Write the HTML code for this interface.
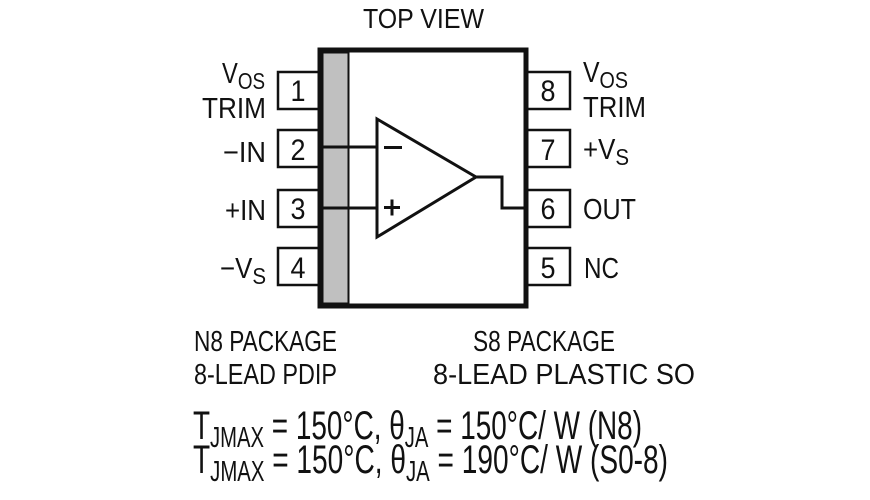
<!DOCTYPE html>
<html><head><style>html,body{margin:0;padding:0;background:#fff}svg{display:block}</style></head>
<body>
<svg width="870" height="500" viewBox="0 0 870 500" xmlns="http://www.w3.org/2000/svg" font-family="Liberation Sans, sans-serif" fill="#111">
<rect x="0" y="0" width="870" height="500" fill="#fff"/>
<text x="363" y="28" font-size="28" textLength="121" lengthAdjust="spacingAndGlyphs">TOP VIEW</text>
<g fill="#fff" stroke="#111" stroke-width="2.5">
<rect x="278" y="72" width="41" height="37"/>
<rect x="278" y="130" width="41" height="37"/>
<rect x="278" y="190" width="41" height="37"/>
<rect x="278" y="248" width="41" height="37"/>
<rect x="526" y="72" width="44" height="37"/>
<rect x="526" y="130" width="44" height="37"/>
<rect x="526" y="190" width="44" height="37"/>
<rect x="526" y="248" width="44" height="37"/>
</g>
<rect x="320" y="50" width="206" height="256" fill="#fff" stroke="#111" stroke-width="5"/>
<rect x="322.5" y="52.5" width="26" height="251" fill="#c0c0c0" stroke="#111" stroke-width="2"/>
<g fill="none" stroke="#111" stroke-width="3">
<polygon points="377,119 377,237 476,177" fill="#fff"/>
<polyline points="322,147 377,147"/>
<polyline points="322,208 377,208"/>
<polyline points="476,177 502,177 502,208 524,208"/>
</g>
<rect x="384" y="146" width="18" height="3" fill="#111"/>
<rect x="384" y="206" width="16" height="3" fill="#111"/>
<rect x="390.5" y="199.5" width="3" height="16" fill="#111"/>
<g font-size="30" text-anchor="middle">
<text x="298" y="101" textLength="15" lengthAdjust="spacingAndGlyphs">1</text><text x="298" y="160" textLength="15" lengthAdjust="spacingAndGlyphs">2</text><text x="298" y="219" textLength="15" lengthAdjust="spacingAndGlyphs">3</text><text x="298" y="278" textLength="15" lengthAdjust="spacingAndGlyphs">4</text>
<text x="548" y="101" textLength="15" lengthAdjust="spacingAndGlyphs">8</text><text x="548" y="160" textLength="15" lengthAdjust="spacingAndGlyphs">7</text><text x="548" y="219" textLength="15" lengthAdjust="spacingAndGlyphs">6</text><text x="548" y="278" textLength="15" lengthAdjust="spacingAndGlyphs">5</text>
</g>
<g font-size="29">
<text x="222" y="83" textLength="43" lengthAdjust="spacingAndGlyphs">V<tspan font-size="23" dy="6">OS</tspan></text>
<text x="202" y="118" textLength="64" lengthAdjust="spacingAndGlyphs">TRIM</text>
<text x="223" y="162" textLength="43" lengthAdjust="spacingAndGlyphs">−IN</text>
<text x="225" y="220" textLength="41" lengthAdjust="spacingAndGlyphs">+IN</text>
<text x="220" y="278" textLength="46" lengthAdjust="spacingAndGlyphs">−V<tspan font-size="23" dy="6">S</tspan></text>
<text x="583" y="82" textLength="45" lengthAdjust="spacingAndGlyphs">V<tspan font-size="23" dy="6">OS</tspan></text>
<text x="583" y="117" textLength="63" lengthAdjust="spacingAndGlyphs">TRIM</text>
<text x="583" y="159" textLength="46" lengthAdjust="spacingAndGlyphs">+V<tspan font-size="23" dy="6">S</tspan></text>
<text x="583" y="219" textLength="53" lengthAdjust="spacingAndGlyphs">OUT</text>
<text x="584" y="278" textLength="35" lengthAdjust="spacingAndGlyphs">NC</text>
</g>
<g font-size="29">
<text x="194" y="351" textLength="143" lengthAdjust="spacingAndGlyphs">N8 PACKAGE</text>
<text x="194" y="384" textLength="143" lengthAdjust="spacingAndGlyphs">8-LEAD PDIP</text>
<text x="473" y="351" textLength="142" lengthAdjust="spacingAndGlyphs">S8 PACKAGE</text>
<text x="433" y="384" textLength="262" lengthAdjust="spacingAndGlyphs">8-LEAD PLASTIC SO</text>
</g>
<g font-size="40">
<text x="193" y="439" textLength="449" lengthAdjust="spacingAndGlyphs">T<tspan font-size="29" dy="8">JMAX</tspan><tspan dy="-8"> = 150°C, θ</tspan><tspan font-size="29" dy="8">JA</tspan><tspan dy="-8"> = 150°C/ W (N8)</tspan></text>
<text x="193" y="473" textLength="475" lengthAdjust="spacingAndGlyphs">T<tspan font-size="29" dy="8">JMAX</tspan><tspan dy="-8"> = 150°C, θ</tspan><tspan font-size="29" dy="8">JA</tspan><tspan dy="-8"> = 190°C/ W (S0-8)</tspan></text>
</g>
</svg>
</body></html>
